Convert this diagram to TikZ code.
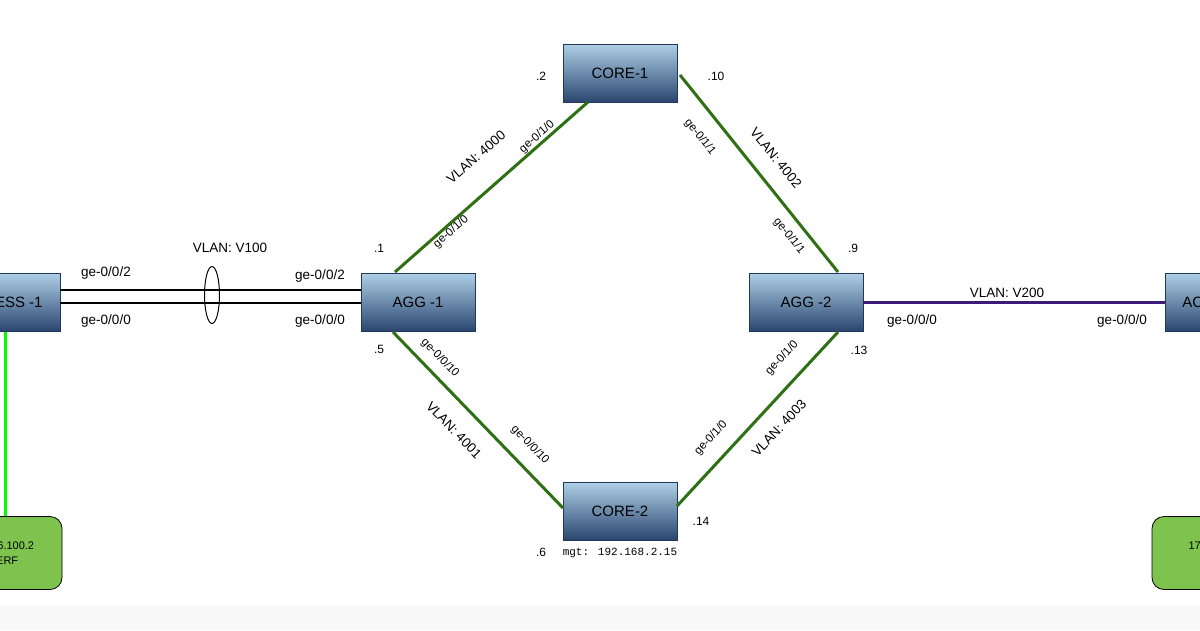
\documentclass[tikz,border=0pt]{standalone}
\usetikzlibrary{shapes.geometric}
\usepackage{fontspec}
\setmainfont{Liberation Sans}
\newfontfamily\monof{Liberation Mono}
\definecolor{devtop}{HTML}{AECFE6}
\definecolor{devbot}{HTML}{2A4670}
\definecolor{linkg}{HTML}{2F7014}
\definecolor{hostg}{HTML}{7DC34E}
\definecolor{purp}{HTML}{3D1A78}
\begin{document}
\begin{tikzpicture}[x=1pt,y=-1pt,
 dev/.style={draw=devbot!80!black,line width=0.8pt,minimum width=114pt,minimum height=58pt,top color=devtop,bottom color=devbot,font=\fontsize{15}{17}\selectfont},
 host/.style={draw=black,line width=0.8pt,rounded corners=12pt,fill=hostg,minimum width=120pt,minimum height=73pt,align=center,font=\fontsize{11}{15}\selectfont},
 link/.style={line width=3pt,draw=linkg},
 lbl/.style={font=\fontsize{13.5}{15}\selectfont},
 sm/.style={font=\fontsize{11.5}{13}\selectfont},
 dot/.style={font=\fontsize{12}{14}\selectfont}]
\useasboundingbox (0,0) rectangle (1200,630);
\clip (0,0) rectangle (1200,630);
\fill[gray!5] (0,605) rectangle (1200,630);
\node[dev] (acc1) at (3,302) {ACCESS -1};
\node[dev] (agg1) at (418,302) {AGG -1};
\node[dev] (core1) at (620,73) {CORE-1};
\node[dev] (agg2) at (806,302) {AGG -2};
\node[dev] (core2) at (620,511) {CORE-2};
\node[dev] (acc2) at (1222,302) {ACCESS -2};
\node[host] (h1) at (2,553) {172.16.100.2\\IPERF};
\node[host] (h2) at (1212,553) {};
\node[font=\fontsize{11}{15}\selectfont,anchor=west] (h2t) at (1185,546) {172.16.200.2};
\draw[line width=3pt,green] (5,332) -- (h1.north -| 5,0);
\draw[line width=1.2pt] (acc1.east |- 0,290) -- (agg1.west |- 0,290);
\draw[line width=1.2pt] (acc1.east |- 0,303) -- (agg1.west |- 0,303);
\node[draw,ellipse,line width=1pt,minimum width=15pt,minimum height=57pt,inner sep=0pt] (bund) at (212,295) {};
\node[lbl] (v100) at (230,248) {VLAN: V100};
\node[lbl] at (106,273) {ge-0/0/2};
\node[lbl] at (106,321) {ge-0/0/0};
\node[lbl] at (320,276) {ge-0/0/2};
\node[lbl] at (320,321) {ge-0/0/0};
\draw[line width=3pt,purp] (agg2.east) -- (acc2.west);
\node[lbl] at (1007,293) {VLAN: V200};
\node[lbl] at (912,321) {ge-0/0/0};
\node[lbl] at (1122,321) {ge-0/0/0};
\draw[link] (395,272) -- (588,102);
\draw[link] (680,75) -- (838,272);
\draw[link] (393,332) -- (563,508);
\draw[link] (838,332) -- (677,506);
\node[lbl,rotate=41] at (476,157) {VLAN: 4000};
\node[sm,rotate=41] at (537,137) {ge-0/1/0};
\node[sm,rotate=41] at (451,232) {ge-0/1/0};
\node[lbl,rotate=-51] at (776,158) {VLAN: 4002};
\node[sm,rotate=-51] at (700,137) {ge-0/1/1};
\node[sm,rotate=-51] at (789,236) {ge-0/1/1};
\node[lbl,rotate=-46] at (454,430) {VLAN: 4001};
\node[sm,rotate=-46] at (440,358) {ge-0/0/10};
\node[sm,rotate=-46] at (530,445) {ge-0/0/10};
\node[lbl,rotate=47] at (779,428) {VLAN: 4003};
\node[sm,rotate=47] at (782,358) {ge-0/1/0};
\node[sm,rotate=47] at (711,438) {ge-0/1/0};
\node[dot] at (541,76) {.2};
\node[dot] at (716,76) {.10};
\node[dot] at (379,248) {.1};
\node[dot] at (853,248) {.9};
\node[dot] at (379,349) {.5};
\node[dot] at (859,350) {.13};
\node[dot] at (541,552) {.6};
\node[dot] at (701,521) {.14};
\node[font=\monof\fontsize{11}{13}\selectfont] at (620,553) {mgt: 192.168.2.15};
\end{tikzpicture}
\end{document}
